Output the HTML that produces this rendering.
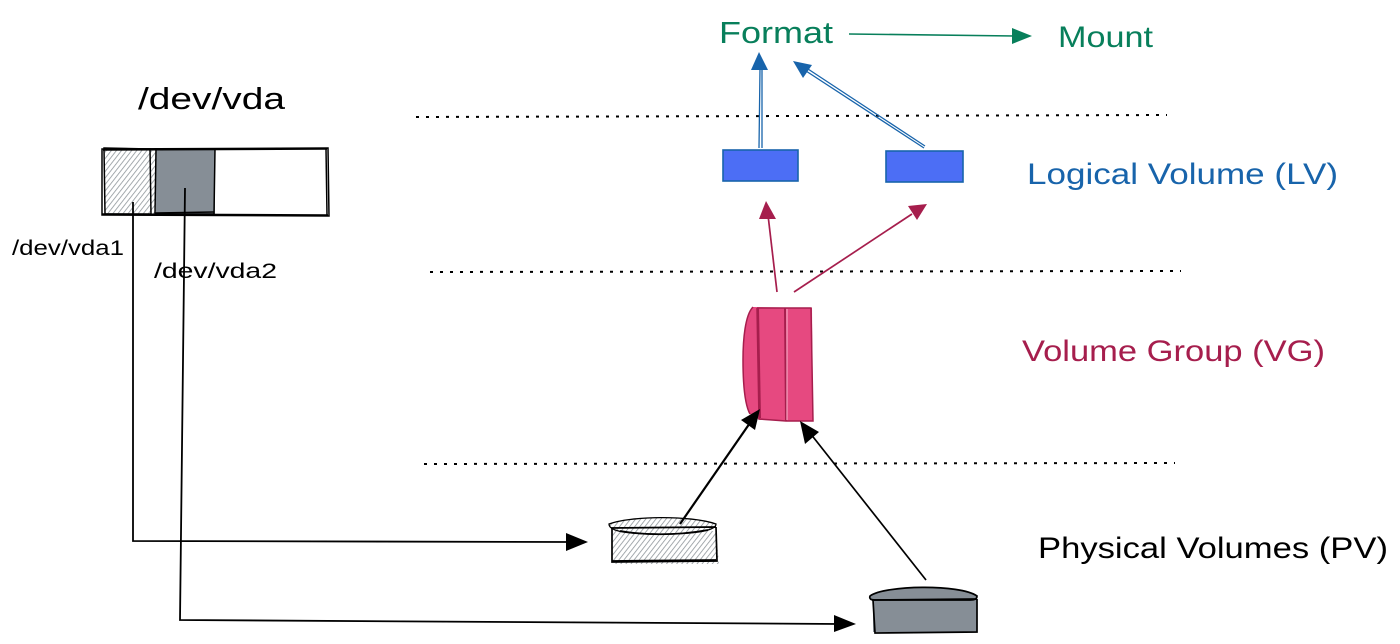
<!DOCTYPE html>
<html>
<head>
<meta charset="utf-8">
<style>
html,body{margin:0;padding:0;background:#fff;width:1400px;height:644px;overflow:hidden}
svg{display:block}
text{font-family:"Liberation Sans",sans-serif}
</style>
</head>
<body>
<svg width="1400" height="644" viewBox="0 0 1400 644" xmlns="http://www.w3.org/2000/svg">
<defs>
<pattern id="h" width="4" height="4" patternUnits="userSpaceOnUse" patternTransform="rotate(38)">
<rect width="4" height="4" fill="#fff"/>
<line x1="0" y1="0" x2="0" y2="4" stroke="#8f969b" stroke-width="1.6"/>
</pattern>
</defs>
<rect width="1400" height="644" fill="#fff"/>

<!-- dotted separators -->
<g stroke="#000" stroke-width="2" stroke-dasharray="3 7" fill="none">
<path d="M416 117L1167 115"/>
<path d="M430 272L1181 271"/>
<path d="M424 464L1175 463"/>
</g>

<!-- disk -->
<rect x="105" y="149" width="52" height="65" fill="url(#h)"/>
<rect x="156" y="149" width="59" height="65" fill="#868e96"/>
<g fill="none" stroke="#000" stroke-width="1.5">
<path d="M102 149L328 148L329 216L102 215Z"/>
<path d="M104 148L150 149L151 214L105 214Z"/>
<path d="M156 149L215 149L214 214L155 214Z"/>
<path d="M103 150L327 149"/>
<path d="M102 214L328 215"/>
<path d="M155 213L214 212"/>
<path d="M326 149L327 215"/>
</g>

<text x="138" y="109" font-size="31" fill="#000" textLength="147" lengthAdjust="spacingAndGlyphs">/dev/vda</text>
<text x="12" y="255" font-size="21" fill="#000" textLength="112" lengthAdjust="spacingAndGlyphs">/dev/vda1</text>
<text x="154" y="278" font-size="21" fill="#000" textLength="123" lengthAdjust="spacingAndGlyphs">/dev/vda2</text>

<!-- partition connectors -->
<g fill="none" stroke="#000" stroke-width="1.8">
<path d="M133 202L133 541L570 542"/>
<path d="M185 188L180 620L840 624"/>
</g>
<path d="M566 533L588 542L566 551Z" fill="#000"/>
<path d="M834 615L856 624L834 632Z" fill="#000"/>

<!-- PV1 -->
<path d="M612 531L612 564L719 564L716 531Z" fill="url(#h)"/>
<path d="M609 524C630 516 690 515 716 524C716 530 700 534 660 534C630 534 609 532 609 524Z" fill="url(#h)" stroke="#000" stroke-width="1.3"/>
<path d="M611 528L716 527M612 528L612 562L717 561L716 527M612 561L716 560M620 531C650 536 680 535 708 530" fill="none" stroke="#000" stroke-width="1.7"/>

<!-- PV2 -->
<rect x="873" y="600" width="104" height="32" fill="#868e96"/>
<path d="M870 596C885 585 960 584 977 596C977 599 975 600 970 600L875 600C871 600 869 599 870 596Z" fill="#868e96" stroke="#000" stroke-width="1.7"/>
<path d="M872 600L977 599M873 600L875 633L977 632L977 599" fill="none" stroke="#000" stroke-width="1.7"/>

<!-- VG -->
<path d="M753 307C745 315 743 340 743 360C743 385 745 405 750 414L760 420L813 421L812 308Z" fill="#e64980"/>
<g fill="none" stroke="#a61e4d" stroke-width="1.5">
<path d="M753 307C745 315 743 340 743 360C743 385 745 405 750 414"/>
<path d="M757 308L759 419L786 421L813 421L811 308L757 308"/>
<path d="M785 308L786 421" stroke-width="2"/>
<path d="M758 308L760 418" stroke-width="2"/>
</g>
<path d="M787 309L787 420" stroke="#f7a6c2" stroke-width="1.2"/>

<!-- Black arrows -->
<path d="M680 524L752 420" fill="none" stroke="#000" stroke-width="2.2"/>
<path d="M760 409L755 430L741 420Z" fill="#000"/>
<path d="M926 580L810 433" fill="none" stroke="#000" stroke-width="1.7"/>
<path d="M800 421L819 432L805 444Z" fill="#000"/>

<!-- Red arrows -->
<g fill="none" stroke="#a61e4d" stroke-width="1.7">
<path d="M777 292L768 215"/>
<path d="M794 292L912 214"/>
</g>
<path d="M766 201L776 219L759 219Z" fill="#a61e4d"/>
<path d="M927 204L908 206L917 220Z" fill="#a61e4d"/>

<!-- LV -->
<rect x="723" y="150" width="75" height="31" fill="#4c6ef5" stroke="#1864ab" stroke-width="1.6"/>
<rect x="886" y="151" width="77" height="31" fill="#4c6ef5" stroke="#1864ab" stroke-width="1.6"/>

<!-- Blue arrows -->
<g fill="none" stroke="#1864ab" stroke-width="1.3">
<path d="M759 148L760 68M762 148L762 68"/>
<path d="M924 148L806 71M925 146L808 69"/>
</g>
<path d="M759 52L768 70L751 70Z" fill="#1864ab"/>
<path d="M793 61L812 65L803 78Z" fill="#1864ab"/>

<!-- Green arrow -->
<path d="M849 34L1015 36" fill="none" stroke="#087f5b" stroke-width="1.6"/>
<path d="M1032 36L1012 28L1012 44Z" fill="#087f5b"/>

<!-- labels -->
<text x="719" y="43" font-size="31" fill="#087f5b" textLength="114" lengthAdjust="spacingAndGlyphs">Format</text>
<text x="1058" y="47" font-size="30" fill="#087f5b" textLength="95" lengthAdjust="spacingAndGlyphs">Mount</text>
<text x="1027" y="184" font-size="30" fill="#1864ab" textLength="311" lengthAdjust="spacingAndGlyphs">Logical Volume (LV)</text>
<text x="1022" y="361" font-size="30" fill="#a61e4d" textLength="303" lengthAdjust="spacingAndGlyphs">Volume Group (VG)</text>
<text x="1038" y="558" font-size="30" fill="#000" textLength="350" lengthAdjust="spacingAndGlyphs">Physical Volumes (PV)</text>
</svg>
</body>
</html>
